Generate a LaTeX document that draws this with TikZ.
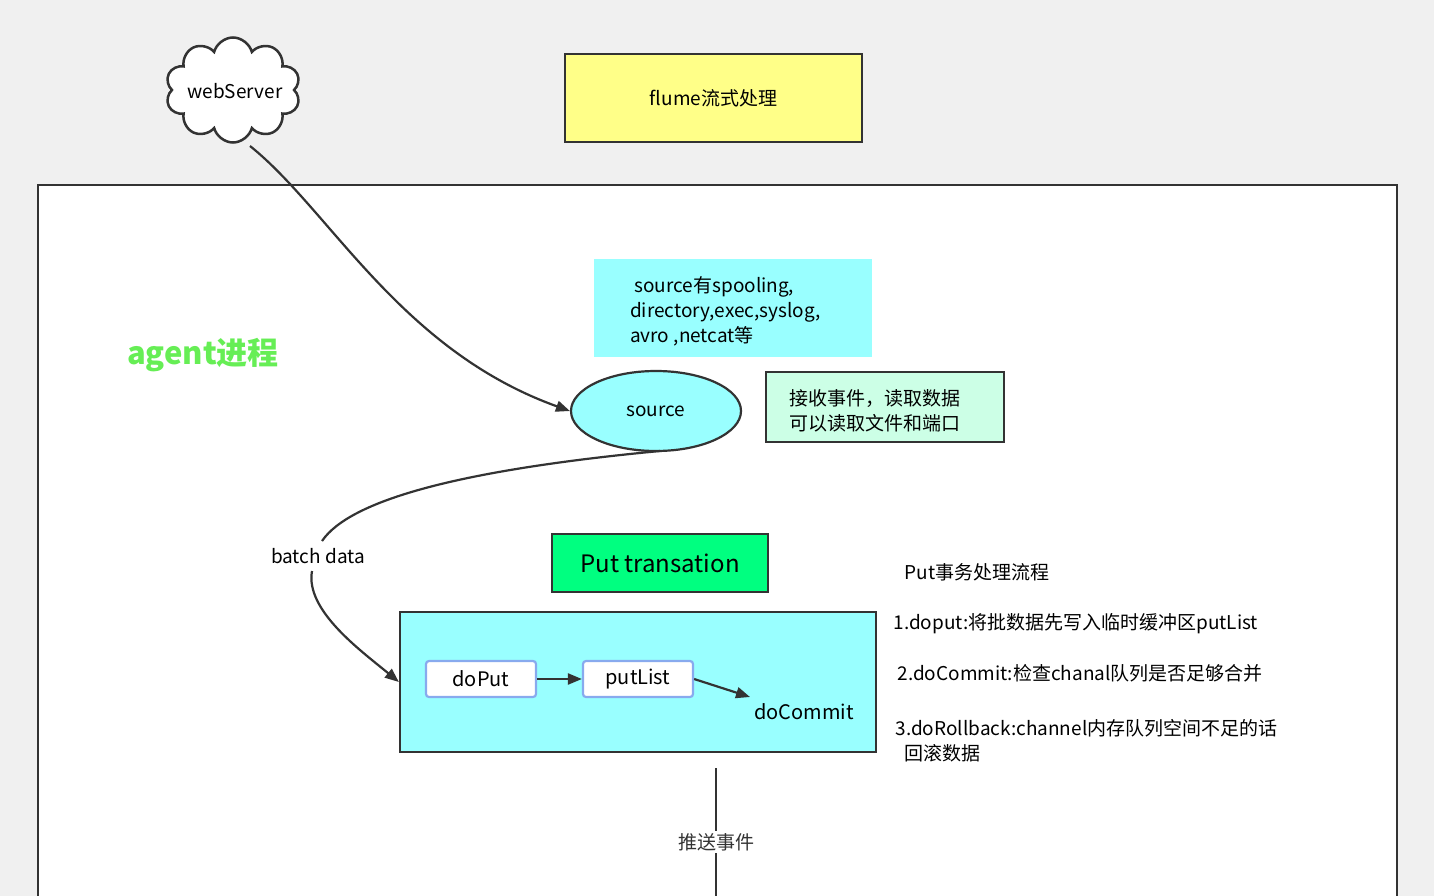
\documentclass[tikz,border=0pt]{standalone}
\usepackage{fontspec}
\setmainfont{Noto Sans CJK SC}
\usetikzlibrary{shapes.symbols,shapes.geometric,arrows.meta}
\definecolor{bg}{HTML}{F0F0F0}
\definecolor{cy}{HTML}{99FFFF}
\definecolor{yl}{HTML}{FFFF88}
\definecolor{lg}{HTML}{CCFFE6}
\definecolor{gr}{HTML}{00FF80}
\definecolor{ag}{HTML}{66EE55}
\definecolor{bl}{HTML}{88AAEE}
\definecolor{ln}{HTML}{333333}
\begin{document}
\begin{tikzpicture}[x=1pt,y=-1pt,font=\fontsize{19}{23}\selectfont,
 box/.style={draw=ln,line width=2.2pt},
 arr/.style={draw=ln,line width=2.2pt,-{Triangle[length=14pt,width=11pt]}},
 rb/.style={draw=bl,line width=2.2pt,rounded corners=3pt,fill=white,minimum width=110pt,minimum height=36pt,font=\fontsize{20}{24}\selectfont}]
\useasboundingbox (0,0) rectangle (1434,896);
\clip (0,0) rectangle (1434,896);
\fill[bg] (0,0) rectangle (1434,896);
\draw[box,fill=white] (38,185) rectangle (1397,920);
\node[cloud,cloud puffs=10,aspect=1.3,draw=ln,line width=2.5pt,fill=white,minimum width=135pt,minimum height=105pt] (web) at (233,90) {};
\node at (235,91) {webServer};
\node[box,fill=yl,minimum width=297pt,minimum height=88pt] (fl) at (713.5,98) {flume流式处理};
\node[fill=cy,minimum width=278pt,minimum height=98pt] (sd) at (733,308) {};
\node[align=left,anchor=north west,font=\fontsize{19}{25}\selectfont,inner sep=0pt] (st) at (630,276) {\ source有spooling,\\directory,exec,syslog,\\avro ,netcat等};
\node[text=ag,font=\bfseries\fontsize{31}{36}\selectfont] (ag) at (203,355) {agent进程};
\node[ellipse,box,fill=cy,minimum width=170pt,minimum height=80pt] (src) at (656,411) {source};
\node[box,fill=lg,minimum width=238pt,minimum height=70pt] (rd) at (885,407) {};
\node[align=left,anchor=west,font=\fontsize{19}{25}\selectfont] at (786,411) {接收事件，读取数据\\可以读取文件和端口};
\node[box,fill=gr,minimum width=216pt,minimum height=58pt,font=\fontsize{24}{28}\selectfont] (pt) at (660,563) {Put transation};
\node (pl) at (977,572) {Put事务处理流程};
\node[box,fill=cy,minimum width=476pt,minimum height=140pt] (big) at (638,682) {};
\node[rb] (dp) at (481,679) {doPut};
\node[rb] (pu) at (638,679) {putList};
\node[font=\fontsize{20}{24}\selectfont] (dc) at (804,712) {doCommit};
\coordinate (dce) at (750,697);
\draw[arr] (dp) -- (pu);
\draw[arr] (pu.east) -- (dce);
\node[anchor=west] (t1) at (890,624) {1.doput:将批数据先写入临时缓冲区putList};
\node[anchor=west] (t2) at (894,673) {2.doCommit:检查chanal队列是否足够合并};
\node[anchor=west,align=left,font=\fontsize{19}{25}\selectfont] (t3) at (892,741) {3.doRollback:channel内存队列空间不足的话\\\ \ 回滚数据};
\coordinate (vs) at (716,768);
\coordinate (ve) at (716,900);
\draw[ln,line width=2.5pt] (vs) -- (ve) node[pos=0.56,fill=white,inner sep=2pt] {推送事件};
\coordinate (w0) at (250,146);
\draw[arr] (w0) .. controls (330,210) and (400,350) .. (src.west);
\coordinate (b0) at (660,451);
\coordinate (bd) at (318,556);
\draw[line width=2.2pt,draw=ln] (b0) .. controls (460,470) and (350,500) .. (322,541);
\draw[arr] (312,571) .. controls (305,610) and (360,650) .. (big.west);
\node (bdl) at (bd) {batch data};
\end{tikzpicture}
\end{document}
